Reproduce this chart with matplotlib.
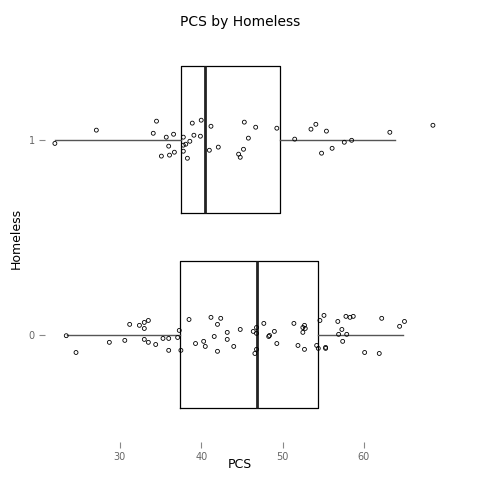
import matplotlib
matplotlib.use("Agg")
import matplotlib.pyplot as plt

# box stats (group 0, group 1)
groups = [0, 1]
q1 = [37.4, 37.5]
med = [46.8, 40.5]
q3 = [54.4, 49.7]
whislo = [23.5, 22.0]
whishi = [64.8, 63.8]

pcs_1 = [22.0, 27.1, 34.5, 34.1, 35.7, 36.6, 36.0, 35.1, 36.1, 36.7, 37.8, 37.8,
         38.1, 38.6, 37.8, 38.3, 38.9, 39.1, 40.0, 39.9, 41.2, 41.0, 42.1, 45.3,
         45.8, 45.2, 44.6, 44.8, 46.7, 49.3, 51.5, 53.5, 54.1, 55.4, 54.8, 56.1,
         57.6, 58.5, 63.2, 68.5]
jit_1 = [-0.02, 0.048, 0.094, 0.032, 0.012, 0.027, -0.034, -0.085, -0.08, -0.065,
         0.012, -0.029, -0.024, -0.009, -0.06, -0.096, 0.084, 0.022, 0.099, 0.017,
         0.068, -0.055, -0.039, 0.089, 0.007, -0.05, -0.075, -0.091, 0.063, 0.058,
         0.002, 0.053, 0.078, 0.043, -0.07, -0.045, -0.014, -0.004, 0.037, 0.073]

pcs_0 = [23.4, 24.6, 28.7, 30.6, 31.2, 32.4, 33.0, 33.0, 33.5, 33.0, 33.5, 34.4,
         35.3, 36.0, 36.0, 37.1, 37.3, 37.5, 38.5, 39.3, 40.3, 40.5, 41.2, 42.0,
         42.4, 41.6, 42.0, 43.2, 43.2, 44.0, 44.8, 46.4, 46.8, 46.8, 46.8, 46.6,
         47.7, 48.3, 48.4, 49.0, 49.3, 51.4, 51.9, 52.5, 52.7, 52.8, 52.5, 52.7,
         54.2, 54.4, 54.6, 55.1, 55.3, 55.3, 56.8, 57.3, 56.9, 57.4, 57.9, 57.8,
         58.3, 58.7, 60.1, 61.9, 62.2, 64.4, 65.0]
jit_0 = [-0.005, -0.091, -0.039, -0.029, 0.053, 0.048, 0.063, 0.032, 0.073, -0.024,
         -0.039, -0.05, -0.019, -0.019, -0.08, -0.014, 0.022, -0.08, 0.078, -0.045,
         -0.034, -0.06, 0.089, 0.053, 0.084, -0.009, -0.085, 0.012, -0.024, -0.06,
         0.027, 0.017, 0.037, 0.007, -0.075, -0.096, 0.058, -0.009, -0.004, 0.017,
         -0.045, 0.058, -0.055, 0.037, 0.048, 0.032, 0.012, -0.075, -0.055, -0.07,
         0.073, 0.099, -0.065, -0.07, 0.068, 0.027, 0.002, -0.034, 0.002, 0.094,
         0.089, 0.094, -0.091, -0.096, 0.084, 0.043, 0.068]

fig = plt.figure(figsize=(4.8, 4.8), dpi=100)
ax = fig.add_axes([0.094, 0.079, 0.885, 0.854])

stats = []
for i in range(len(groups)):
    stats.append({"q1": q1[i], "med": med[i], "q3": q3[i],
                  "whislo": whislo[i], "whishi": whishi[i], "fliers": []})
ax.bxp(stats, positions=groups, vert=False, widths=0.755, showcaps=False,
       boxprops=dict(color="black", lw=0.9),
       medianprops=dict(color="#222222", lw=2),
       whiskerprops=dict(color="#555555", lw=1))

ax.scatter(pcs_0, [0 + j for j in jit_0], s=8, facecolors="none",
           edgecolors="black", linewidths=0.6, zorder=3)
ax.scatter(pcs_1, [1 + j for j in jit_1], s=8, facecolors="none",
           edgecolors="black", linewidths=0.6, zorder=3)

ax.set_xlim(20.8, 73.05)
ax.set_ylim(-0.55, 1.55)
ax.set_xticks([30, 40, 50, 60])
ax.set_yticks(groups)
ax.set_yticklabels(["0", "1"])
for s in ax.spines.values():
    s.set_visible(False)
ax.tick_params(colors="#888888", labelsize=7, length=4, labelcolor="#666666")

fig.text(0.5, 1 - 22 / 480, "PCS by Homeless", fontsize=10, ha="center", va="center")
fig.text(0.5, 1 - 465 / 480, "PCS", fontsize=9, ha="center", va="center")
fig.text(16 / 480, 1 - 238 / 480, "Homeless", fontsize=9, ha="center", va="center",
         rotation=90)

fig.savefig("out.png", dpi=100)
